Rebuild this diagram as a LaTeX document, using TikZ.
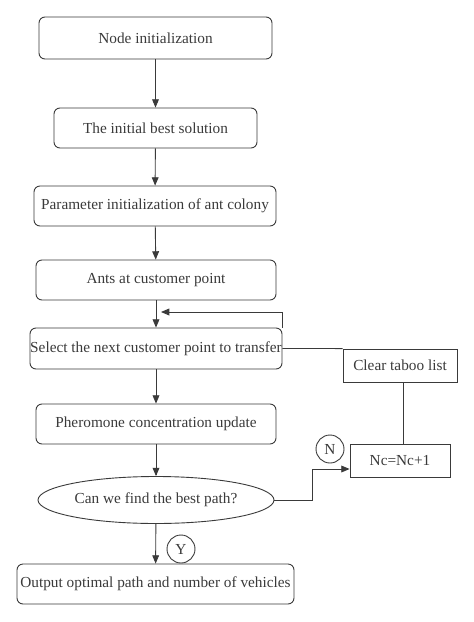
\documentclass[tikz,border=0pt]{standalone}
\usepackage{fontspec}
\setmainfont{Liberation Serif}
\usetikzlibrary{arrows}
\usepgflibrary{shapes.geometric}
\usetikzlibrary{calc}

\definecolor{inkgray}{HTML}{3A3A3A}

\tikzset{
    flowbox/.style = {draw=inkgray, line width=0.9pt, rounded corners=6pt, align=center, inner sep=0pt},
    plainbox/.style = {draw=inkgray, line width=0.9pt, align=center, inner sep=0pt},
    askbox/.style = {ellipse, draw=inkgray, line width=0.9pt, inner sep=0pt},
    answer/.style = {circle, draw=inkgray, line width=0.9pt, minimum size=28pt, inner sep=0pt},
    flow/.style = {draw=inkgray, line width=0.9pt, -triangle 45},
    link/.style = {draw=inkgray, line width=0.9pt}
}

\begin{document}
\begin{tikzpicture}[x=1pt, y=-1pt, font=\fontsize{15.3}{17}\selectfont, text=inkgray]
        \useasboundingbox (0,0) rectangle (474,622);
        % main column
        \node[flowbox, minimum width=233pt, minimum height=42pt] (init) at (155.5,38) {Node initialization};
        \node[flowbox, minimum width=203pt, minimum height=40pt] (best) at (155.5,128) {The initial best solution};
        \node[flowbox, minimum width=242pt, minimum height=40pt] (param) at (155,206) {Parameter initialization of ant colony};
        \node[flowbox, minimum width=240pt, minimum height=40pt] (ants) at (156,280) {Ants at customer point};
        \node[flowbox, minimum width=252pt, minimum height=41pt] (select) at (156,348.5) {Select the next customer point to transfer};
        \node[flowbox, minimum width=240pt, minimum height=40pt] (phero) at (156,424) {Pheromone concentration update};
        \node[askbox, minimum width=236pt, minimum height=47pt] (ask) at (156,500) {Can we find the best path?};
        \node[flowbox, minimum width=277pt, minimum height=40pt] (output) at (155.5,584) {Output optimal path and number of vehicles};
        % right side loop
        \node[plainbox, minimum width=114pt, minimum height=33pt] (clear) at (400,365.5) {Clear taboo list};
        \node[plainbox, minimum width=100pt, minimum height=33pt] (count) at (400,460.5) {Nc=Nc+1};
        \node[answer] (no) at (330,449) {N};
        \node[answer] (yes) at (181,549) {Y};

        \draw[flow] (init) -- (best);
        \draw[flow] (best) -- (param);
        \draw[flow] (param) -- (ants);
        \draw[flow] (ants) -- (select);
        \draw[flow] (select) -- (phero);
        \draw[flow] (phero) -- (ask);
        \draw[flow] (ask) -- (output);
        \coordinate (back) at (161,312);
        \draw[flow] (select.north east) -- (select.north east |- back) -- (back);
        \draw[link] (select.east) -- (clear.north west);
        \draw[link] (clear.south -| 403,0) -- (count.north -| 403,0);
        \draw[flow] (ask.east) -| (312,469) -- (count.west |- 0,469);
    \end{tikzpicture}
\end{document}
